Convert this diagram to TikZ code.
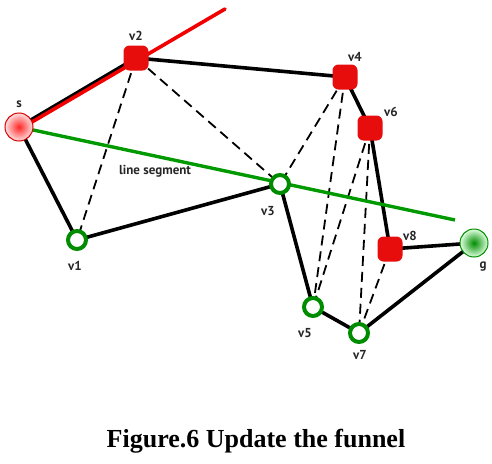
\documentclass[tikz,border=0pt]{standalone}
\usepackage{fontspec}
\setmainfont{Liberation Serif}
\newfontfamily\lblfont{PT Sans}
\begin{document}
\begin{tikzpicture}[x=1pt,y=-1pt,
  redv/.style={fill=red!90!black!95, draw=none, rounded corners=6pt, minimum size=25pt, inner sep=0pt},
  greenv/.style={circle, draw=green!55!black, line width=4pt, fill=white, minimum size=18pt, inner sep=0pt},
  solidedge/.style={line width=3.6pt, black},
  dashedge/.style={line width=1.8pt, black, dash pattern=on 10pt off 6pt},
  lbl/.style={font=\lblfont\bfseries\fontsize{13}{13}\selectfont, text=black!85, inner sep=0pt}
]
\useasboundingbox (0,0) rectangle (492,463);
% coordinates
\coordinate (ps) at (19,127);
\coordinate (p2) at (136,58);
\coordinate (p4) at (345,77);
\coordinate (p6) at (370,128);
\coordinate (p3) at (280,184);
\coordinate (p1) at (77,240);
\coordinate (p8) at (390,249);
\coordinate (pg) at (474,243);
\coordinate (p5) at (313,307);
\coordinate (p7) at (359,333);
% dashed edges
\draw[dashedge] (p2) -- (p1);
\draw[dashedge] (p2) -- (p3);
\draw[dashedge] (p4) -- (p3);
\draw[dashedge] (p4) -- (p5);
\draw[dashedge] (p6) -- (p5);
\draw[dashedge] (p6) -- (p7);
\draw[dashedge] (p8) -- (p7);
% solid edges
\draw[solidedge] (ps) -- (p2) -- (p4) -- (p6) -- (p8) -- (pg) -- (p7) -- (p5) -- (p3) -- (p1) -- cycle;
% red line
\coordinate (rstart) at (20,129);
\coordinate (rend) at (225,9);
\draw[line width=3.6pt, red!95!black, line cap=round] (rstart) -- (rend);
% green line
\coordinate (gend) at (455,220);
\draw[line width=3.4pt, green!60!black] (ps) -- (gend);
% vertices
\node[circle, minimum size=28pt, inner sep=0pt, draw=red!85!black, line width=1pt, inner color=red!85, outer color=red!12] (s) at (ps) {};
\node[circle, minimum size=28pt, inner sep=0pt, draw=green!55!black, line width=1pt, inner color=green!55!black, outer color=green!12] (g) at (pg) {};
\node[redv] (v2) at (p2) {};
\node[redv] (v4) at (p4) {};
\node[redv] (v6) at (p6) {};
\node[redv] (v8) at (p8) {};
\node[greenv] (v3) at (p3) {};
\node[greenv] (v1) at (p1) {};
\node[greenv] (v5) at (p5) {};
\node[greenv] (v7) at (p7) {};
% labels
\node[lbl] (ls) at (19,104) {s};
\node[lbl] (l2) at (136,36) {v2};
\node[lbl] (l4) at (355,57) {v4};
\node[lbl] (l6) at (391,112) {v6};
\node[lbl] (l3) at (268,211) {v3};
\node[lbl] (l1) at (75,266) {v1};
\node[lbl] (l8) at (410,236) {v8};
\node[lbl] (lg) at (483,267) {g};
\node[lbl] (l5) at (305,333) {v5};
\node[lbl] (l7) at (360,355) {v7};
\node[lbl] (lseg) at (155,171) {line segment};
\node[font=\bfseries\fontsize{26}{26}\selectfont, inner sep=0pt] (cap) at (256,441) {Figure.6 Update the funnel};
\end{tikzpicture}
\end{document}
